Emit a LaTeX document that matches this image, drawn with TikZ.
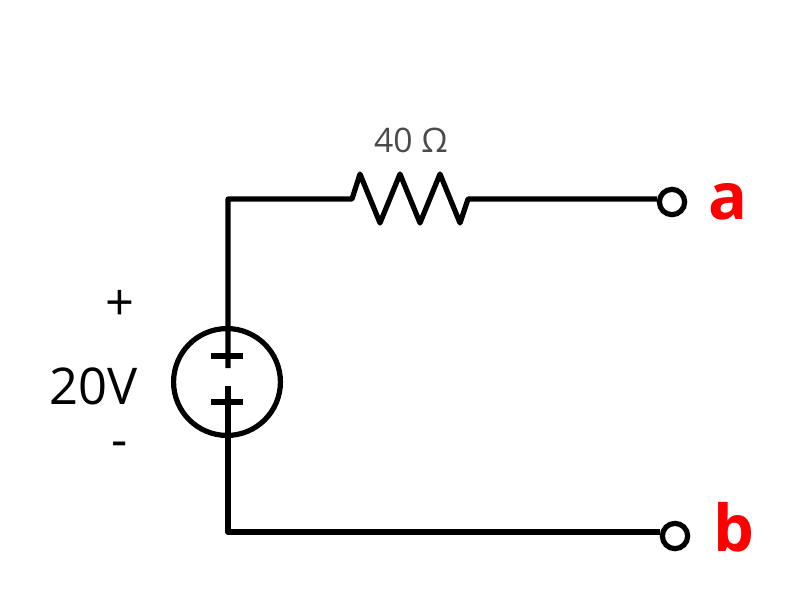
\documentclass[tikz,border=0pt]{standalone}
\usepackage{fontspec}
\setmainfont{Open Sans}
\usetikzlibrary{positioning,calc}
\definecolor{valgray}{RGB}{75,75,75}
\tikzset{
  wire/.style={line width=3.7pt,line join=round},
  terminal/.style={circle,draw,line width=3.7pt,minimum size=18pt,inner sep=0pt},
  source/.style={circle,draw,line width=3.7pt,minimum size=76pt,inner sep=0pt},
  pole/.style={font=\fontsize{36}{36}\selectfont},
  endlabel/.style={text=red,font=\fontsize{46}{46}\selectfont\bfseries},
}
\begin{document}
\begin{tikzpicture}[x=0.025cm,y=-0.025cm]
   \useasboundingbox (0,0) rectangle (800,605);

   % Sorgente
   \node[source] (src) at (227,382) {};
   \coordinate (srcp) at (228,368);
   \coordinate (srcm) at (228,386);
   \coordinate (barpl) at (211,356);
   \coordinate (barpr) at (243,356);
   \coordinate (barml) at (211,402);
   \coordinate (barmr) at (243,402);

   % Resistenza
   \coordinate (c1) at (228,199);
   \coordinate (r0) at (352,199);
   \coordinate (r1) at (468,199);
   \coordinate (c2) at (228,532);

   % Morsetti
   \node[terminal] (a) at (672,202) {};
   \node[terminal] (b) at (675,536) {};

   \draw[wire] (srcp) -- (c1) -- (r0) -- (360,174) -- (380,223) -- (400,174)
      -- (420,223) -- (440,174) -- (460,223) -- (r1) -- (r1 -| a.west);
   \draw[wire] (srcm) -- (c2) -- (c2 -| b.west);
   \draw[wire] (barpl) -- (barpr);
   \draw[wire] (barml) -- (barmr);

   \node[text=valgray,font=\fontsize{24}{24}\selectfont] (rval) at (411,140) {40 Ω};
   \node[pole] (plus) at (120,305) {+};
   \node[pole] (volt) at (94,386) {20V};
   \node[pole] (minus) at (120,450) {-};
   \node[endlabel] (la) at (728,202) {a};
   \node[endlabel] (lb) at (734,527) {b};
\end{tikzpicture}
\end{document}
